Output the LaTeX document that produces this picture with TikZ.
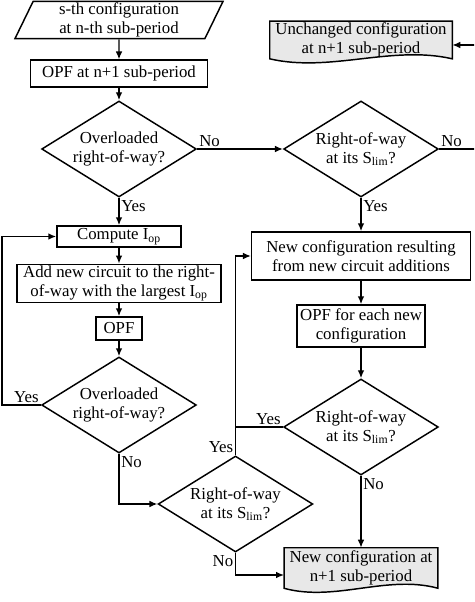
\documentclass[tikz,border=0pt]{standalone}
\usepackage{fontspec}
\setmainfont{Liberation Serif}
\usetikzlibrary{arrows.meta,positioning,calc,shapes.geometric,backgrounds}

\begin{document}
\begin{tikzpicture}[x=0.75pt, y=-0.75pt,
    font=\fontsize{12.6}{14.3}\selectfont,
    box/.style={draw, line width=1.1pt, align=center, inner sep=1pt},
    decision/.style={draw, line width=1.1pt, shape=diamond, align=center,
        inner sep=0pt, shape aspect=1.6, minimum width=116pt, minimum height=72pt},
    doc/.style={align=center, inner sep=1pt},
    flow/.style={line width=1.1pt, -{Latex[length=6pt,width=5pt]}},
    link/.style={line width=1.1pt},
    tag/.style={inner sep=1.5pt}]
    \useasboundingbox (0,0) rectangle (474,602);
    \clip (0,0) rectangle (474,602);

    % Left column
    \node[trapezium, trapezium left angle=64, trapezium right angle=116,
        trapezium stretches body, draw, line width=1.1pt, align=center,
        minimum width=156pt, minimum height=26pt, inner sep=1pt]
        (start) at (119,20) {s-th configuration\\at n-th sub-period};
    \node[box, minimum width=133pt, minimum height=20pt] (opf1) at (119,73.5) {OPF at n+1 sub-period};
    \node[decision] (over1) at (119,149) {Overloaded\\right-of-way?};
    \node[box, minimum width=93pt, minimum height=15.75pt] (iop) at (119,236.5) {Compute I\textsubscript{op}};
    \node[box, minimum width=153pt, minimum height=27.75pt] (add) at (119,283.5)
        {Add new circuit to the right-\\of-way with the largest I\textsubscript{op}};
    \node[box, minimum width=34.5pt, minimum height=17.25pt] (opf2) at (119,328.5) {OPF};
    \node[decision] (over2) at (119,405) {Overloaded\\right-of-way?};
    \node[decision] (lim2) at (235.5,504) {Right-of-way\\at its S\textsubscript{lim}?};

    % Right column
    \node[doc, minimum width=136.5pt, minimum height=27pt] (unch) at (361,40)
        {Unchanged configuration\\at n+1 sub-period};
    \node[decision] (lim1) at (361,149) {Right-of-way\\at its S\textsubscript{lim}?};
    \node[box, minimum width=164pt, minimum height=36pt] (newc) at (361,256)
        {New configuration resulting\\from new circuit additions};
    \node[box, minimum width=96pt, minimum height=31.5pt] (opf3) at (361,326) {OPF for each new\\configuration};
    \node[decision] (lim3) at (361,427) {Right-of-way\\at its S\textsubscript{lim}?};
    \node[doc, minimum width=115pt, minimum height=30pt] (final) at (361,568)
        {New configuration at\\n+1 sub-period};
    \coordinate (outr) at (490,0);

    % Document shapes
    \begin{scope}[on background layer]
        \foreach \d in {unch,final} {
            \draw[line width=1.1pt, fill=gray!18] (\d.north west) -- (\d.north east) -- (\d.south east)
                .. controls ($(\d.south east)!0.33!(\d.south west)+(0,-14)$)
                and ($(\d.south east)!0.67!(\d.south west)+(0,14)$) .. (\d.south west) -- cycle;
        }
    \end{scope}

    % Connectors
    \draw[flow] (start) -- (opf1);
    \draw[flow] (opf1) -- (over1);
    \draw[flow] (over1.east) -- (lim1.west);
    \draw[flow] (lim1.east) -- (lim1.east -| outr) |- ($(unch.east)+(0,5)$);
    \draw[flow] (over1) -- (iop);
    \draw[flow] (iop) -- (add);
    \draw[flow] (add) -- (opf2);
    \draw[flow] (opf2) -- (over2);
    \draw[flow] (over2.west) -- ++(-39,0) |- (iop.west);
    \draw[flow] (over2.south) |- (lim2.west);
    \draw[flow] (lim2.north) |- (newc.west);
    \draw[link] (lim3.west) -- (lim3.west -| lim2.north);
    \draw[flow] (lim2.south) |- ($(final.west)+(0,7)$);
    \draw[flow] (lim1) -- (newc);
    \draw[flow] (newc) -- (opf3);
    \draw[flow] (opf3) -- (lim3);
    \draw[flow] (lim3) -- (final);

    % Labels
    \node[tag, anchor=south west] (no1) at (over1.east) {No};
    \node[tag, anchor=north west] (yes1) at (over1.south) {Yes};
    \node[tag, anchor=south west] (no2) at (lim1.east) {No};
    \node[tag, anchor=north west] (yes2) at (lim1.south) {Yes};
    \node[tag, anchor=south east] (yes3) at (over2.west) {Yes};
    \node[tag, anchor=north west] (no3) at (over2.south) {No};
    \node[tag, anchor=south east] (yes4) at (lim2.north) {Yes};
    \node[tag, anchor=north east] (no4) at (lim2.south) {No};
    \node[tag, anchor=south east] (yes5) at (lim3.west) {Yes};
    \node[tag, anchor=north west] (no5) at (lim3.south) {No};
\end{tikzpicture}
\end{document}
